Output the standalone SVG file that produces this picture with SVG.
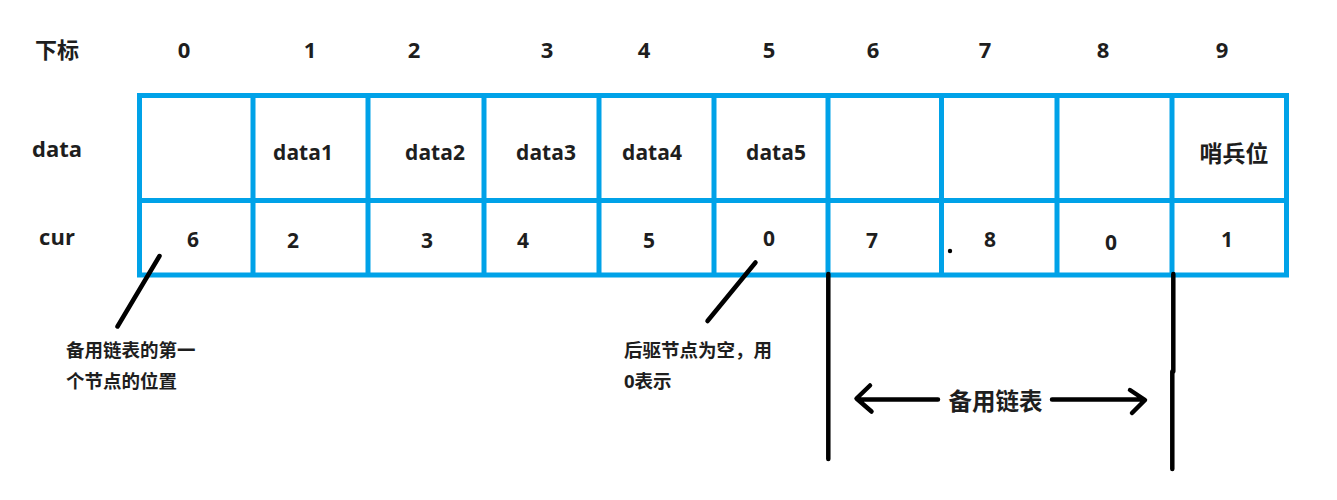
<svg xmlns="http://www.w3.org/2000/svg" width="1337" height="500" viewBox="0 0 1337 500">
<style>
text{font-family:"Open Sans","Noto Sans CJK SC",sans-serif;font-weight:bold;fill:#1e1e1e;text-anchor:middle}
.h{font-size:22px}
.d{font-size:21px}
.c{font-size:21px}
.n{font-size:18.5px;text-anchor:start}
.grid{fill:none;stroke:#00A2E8;stroke-width:5}
.ink{fill:none;stroke:#000;stroke-width:4.5;stroke-linecap:round;stroke-linejoin:round}
</style>
<rect width="1337" height="500" fill="#fff"/>
<g id="labels">
<text class="h" x="57" y="58">下标</text>
<text class="h" x="57" y="157">data</text>
<text class="h" x="57" y="245">cur</text>
</g>
<g id="indices">
<text class="h" x="184" y="58">0</text>
<text class="h" x="310" y="58">1</text>
<text class="h" x="414" y="58">2</text>
<text class="h" x="547" y="58">3</text>
<text class="h" x="644" y="58">4</text>
<text class="h" x="769" y="58">5</text>
<text class="h" x="873" y="58">6</text>
<text class="h" x="985" y="58">7</text>
<text class="h" x="1103" y="58">8</text>
<text class="h" x="1222" y="58">9</text>
</g>
<g id="table">
<path class="grid" d="M139.5 95.5H1286.5V275H139.5Z M139.5 200.5H1286.5 M253 95.5V275 M368 95.5V275 M484 95.5V275 M599 95.5V275 M714 95.5V275 M828 95.5V275 M941.5 95.5V275 M1057 95.5V275 M1172 95.5V275"/>
</g>
<g id="data-row">
<text class="d" x="303" y="160">data1</text>
<text class="d" x="435" y="160">data2</text>
<text class="d" x="546" y="160">data3</text>
<text class="d" x="652" y="160">data4</text>
<text class="d" x="776" y="160">data5</text>
<text x="1234" y="162" style="font-size:23px">哨兵位</text>
</g>
<g id="cur-row">
<text class="c" x="193" y="247">6</text>
<text class="c" x="293" y="248">2</text>
<text class="c" x="427" y="248">3</text>
<text class="c" x="523" y="248">4</text>
<text class="c" x="649" y="248">5</text>
<text class="c" x="769" y="246">0</text>
<text class="c" x="872" y="248">7</text>
<text class="c" x="990" y="247">8</text>
<text class="c" x="1111" y="250">0</text>
<text class="c" x="1227" y="247">1</text>
<circle cx="950" cy="251" r="2.2" fill="#000"/>
</g>
<g id="connectors">
<path class="ink" d="M159.5 256L117.5 326.5"/>
<path class="ink" d="M755.5 262.5L707.5 321"/>
<path class="ink" d="M828.3 274V459"/>
<path class="ink" d="M1173.3 274V371.5M1172.3 371.5V469"/>
<path class="ink" d="M938 399.5H858M870 385.5L856.5 398.5L871.5 411.5"/>
<path class="ink" d="M1052 399.5H1144M1130 390L1145 400L1132 413"/>
</g>
<g id="notes">
<text class="n" x="66" y="357">备用链表的第一</text>
<text class="n" x="66" y="388">个节点的位置</text>
<text class="n" x="624" y="357">后驱节点为空，用</text>
<text class="n" x="624" y="388">0表示</text>
<text x="995.5" y="410" style="font-size:23.5px">备用链表</text>
</g>
</svg>
